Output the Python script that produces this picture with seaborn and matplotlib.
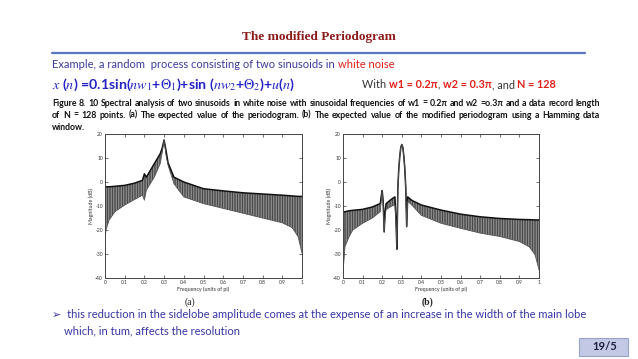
import matplotlib
matplotlib.use("Agg")
import matplotlib.pyplot as plt
import seaborn as sns
import numpy as np

# ---------------- data ----------------
freq_a = [0.0, 0.005, 0.02, 0.05, 0.1, 0.15, 0.19, 0.2, 0.21, 0.25, 0.28, 0.29,
          0.3, 0.31, 0.32, 0.35, 0.4, 0.5, 0.6, 0.7, 0.8, 0.9, 0.95, 0.98, 1.0]
upper_a = [-2.0, -2.0, -2.0, -1.8, -1.4, -0.5, 0.7, 3.4, 2.0, 7.6, 11.7, 14.0,
           17.5, 13.0, 8.0, 2.0, 0.0, -2.8, -3.7, -4.5, -5.0, -5.5, -5.8, -6.0, -6.0]
lower_a = [-24.0, -20.0, -16.0, -12.4, -9.6, -7.3, -5.5, -7.6, -3.4, 2.0, 7.6, 12.0,
           17.5, 11.0, 7.0, -0.7, -6.2, -9.0, -11.0, -13.0, -15.0, -17.0, -19.0, -22.7, -29.6]

freq_b = [0.0, 0.01, 0.03, 0.05, 0.1, 0.15, 0.19, 0.195, 0.2, 0.205, 0.21, 0.215,
          0.22, 0.25, 0.265, 0.27, 0.275, 0.28, 0.285, 0.29, 0.295, 0.3, 0.305,
          0.31, 0.315, 0.32, 0.325, 0.33, 0.35, 0.4, 0.5, 0.6, 0.7, 0.8, 0.9,
          0.95, 0.98, 1.0]
upper_b = [-12.5, -12.4, -12.0, -11.8, -11.4, -10.4, -9.0, -6.0, -3.6, -8.0, -20.8, -12.0,
           -9.0, -7.0, -6.2, -15.0, -28.0, -2.0, 6.0, 11.0, 14.5, 15.6, 14.5,
           11.0, 6.0, -2.0, -18.6, -6.2, -7.6, -9.6, -11.7, -13.4, -14.5, -15.2, -15.6,
           -15.7, -15.8, -15.8]
lower_b = [-38.0, -27.0, -23.0, -20.0, -17.2, -15.0, -12.4, -8.0, -3.6, -10.0, -20.8, -14.0,
           -11.5, -10.0, -9.6, -16.0, -28.0, -2.0, 6.0, 11.0, 14.5, 15.6, 14.5,
           11.0, 6.0, -2.0, -18.6, -8.0, -9.5, -13.9, -17.2, -19.3, -21.3, -22.7, -24.8,
           -27.0, -30.3, -36.6]

x_ticks = [0, 0.1, 0.2, 0.3, 0.4, 0.5, 0.6, 0.7, 0.8, 0.9, 1]
x_tick_labels = ["0", "0.1", "0.2", "0.3", "0.4", "0.5", "0.6", "0.7", "0.8", "0.9", "1"]
y_ticks = [-40, -30, -20, -10, 0, 10, 20]
y_tick_labels = ["-40", "-30", "-20", "-10", "0", "10", "20"]

title_text = "The modified Periodogram"
example_parts = [("Example, a random  process consisting of two sinusoids in ", "#3b3b9c", "normal"),
                 ("white noise", "#e0201a", "normal")]
with_parts = [("With ", "#333333", "normal"), ("w1 = 0.2\u03c0", "#e0201a", "bold"),
              (", ", "#333333", "normal"), ("w2 = 0.3\u03c0", "#e0201a", "bold"),
              (", and ", "#333333", "normal"), ("N = 128", "#e0201a", "bold")]
caption_lines = [
    "Figure 8. 10 Spectral analysis of two sinusoids in white noise with sinusoidal frequencies of w1 = 0.2\u03c0 and w2 =o.3\u03c0 and a data record length",
    "of N = 128 points. (a) The expected value of the periodogram. (b) The expected value of the modified periodogram using a Hamming data",
    "window.",
]
bullet_lines = ["\u27a2  this reduction in the sidelobe amplitude comes at the expense of an increase in the width of the main lobe",
                "which, in tum, affects the resolution"]
page_label = "19/5"

# ---------------- figure ----------------
sns.set_theme(style="white")
plt.rcParams["font.family"] = ["Lato", "DejaVu Sans"]
plt.rcParams["mathtext.fontset"] = "stix"
plt.rcParams["hatch.linewidth"] = 0.5

W, H = 638, 359
fig = plt.figure(figsize=(W / 100, H / 100), dpi=100)
fig.patch.set_facecolor("white")
renderer = fig.canvas.get_renderer()


def px(x, y):
    return x / W, 1 - y / H


def text_width(s, **kw):
    t = fig.text(0, 0, s + "l", **kw)
    t2 = fig.text(0, 0, "l", **kw)
    w = t.get_window_extent(renderer).width - t2.get_window_extent(renderer).width
    t.remove()
    t2.remove()
    return w


def seq(x, y, parts, size, family=("Lato", "DejaVu Sans")):
    for s, color, weight in parts:
        kw = dict(fontsize=size, family=list(family), fontweight=weight)
        fig.text(*px(x, y), s, color=color, va="center", ha="left", **kw)
        x += text_width(s, **kw)


def justified(x0, x1, y, line, size, color, weight="bold"):
    words = line.split(" ")
    kw = dict(fontsize=size, family=["Lato", "DejaVu Sans"], fontweight=weight)
    widths = [text_width(w_, **kw) for w_ in words]
    gap = (x1 - x0 - sum(widths)) / (len(words) - 1)
    x = x0
    for w_, wd in zip(words, widths):
        fig.text(*px(x, y), w_, color=color, va="center", ha="left", **kw)
        x += wd + gap


# title
fig.text(*px(319, 37), title_text, ha="center", va="center", fontsize=9.5,
         family=["Liberation Serif"], fontweight="bold", color="#8c1a1a")
# blue rule
fig.add_artist(plt.Line2D([52 / W, 585 / W], [1 - 53 / H, 1 - 53 / H], color="#5a76be", lw=1.6))
# example line
seq(52, 64, example_parts, 8.0)
# formula
fig.text(*px(52, 85), r"$x$ ($n$) =0.1sin($nw_1$+$\Theta_1$)+sin ($nw_2$+$\Theta_2$)+$u$($n$)",
         ha="left", va="center", fontsize=10.2, fontweight="bold", color="#2323c8")
seq(362, 85, with_parts, 7.8)
# caption
justified(52, 600, 103, caption_lines[0], 6.3, "#111111")
justified(52, 600, 115, caption_lines[1], 6.3, "#111111")
fig.text(*px(52, 127), caption_lines[2], ha="left", va="center", fontsize=6.3,
         fontweight="bold", color="#111111")

# ---------------- axes ----------------
def make_axes(x0, x1, freq, up, lo):
    ax = fig.add_axes([x0 / W, 1 - 278 / H, (x1 - x0) / W, 144 / H])
    ax.fill_between(freq, lo, up, facecolor="#9c9c9c", edgecolor="#262626",
                    hatch="||||||||||", linewidth=0)
    sns.lineplot(x=freq, y=up, ax=ax, color="#111111", lw=1.1)
    sns.lineplot(x=freq, y=lo, ax=ax, color="#555555", lw=0.6)
    ax.set_xlim(0, 1)
    ax.set_ylim(-40, 20)
    ax.set_xticks(x_ticks)
    ax.set_xticklabels(x_tick_labels)
    ax.set_yticks(y_ticks)
    ax.set_yticklabels(y_tick_labels)
    ax.tick_params(direction="in", length=2, width=0.5, labelsize=3.6, pad=1.5,
                   colors="#333333", top=True, right=True, bottom=True, left=True)
    for sp in ax.spines.values():
        sp.set_linewidth(0.7)
        sp.set_color("#444444")
    ax.set_xlabel("Frequency (units of pi)", fontsize=3.8, labelpad=0.8, color="#333333")
    ax.set_ylabel("Magnitude (dB)", fontsize=3.8, labelpad=1, color="#333333")
    ax.set_facecolor("white")
    return ax


make_axes(105, 302, freq_a, upper_a, lower_a)
make_axes(343, 539, freq_b, upper_b, lower_b)
fig.text(*px(190, 302), "(a)", ha="center", va="center", fontsize=7, family=["Liberation Serif"], color="#222222")
fig.text(*px(427, 302), "(b)", ha="center", va="center", fontsize=7, family=["Liberation Serif"],
         fontweight="bold", color="#222222")

# bullet
fig.text(*px(52, 315), bullet_lines[0], ha="left", va="center", fontsize=8.0,
         family=["Lato", "DejaVu Sans"], color="#3535a5")
fig.text(*px(64, 331), bullet_lines[1], ha="left", va="center", fontsize=8.0,
         family=["Lato", "DejaVu Sans"], color="#3535a5")

# page box
box = plt.Rectangle((579 / W, 1 - 356 / H), 49 / W, 18 / H, transform=fig.transFigure,
                    facecolor="#c3c9e4", edgecolor="#9aa3c8", lw=0.8)
fig.add_artist(box)
fig.text(*px(605, 347), page_label, ha="center", va="center", fontsize=8, fontweight="bold",
         color="#1e1e3c")

fig.savefig("out.png", dpi=100)
